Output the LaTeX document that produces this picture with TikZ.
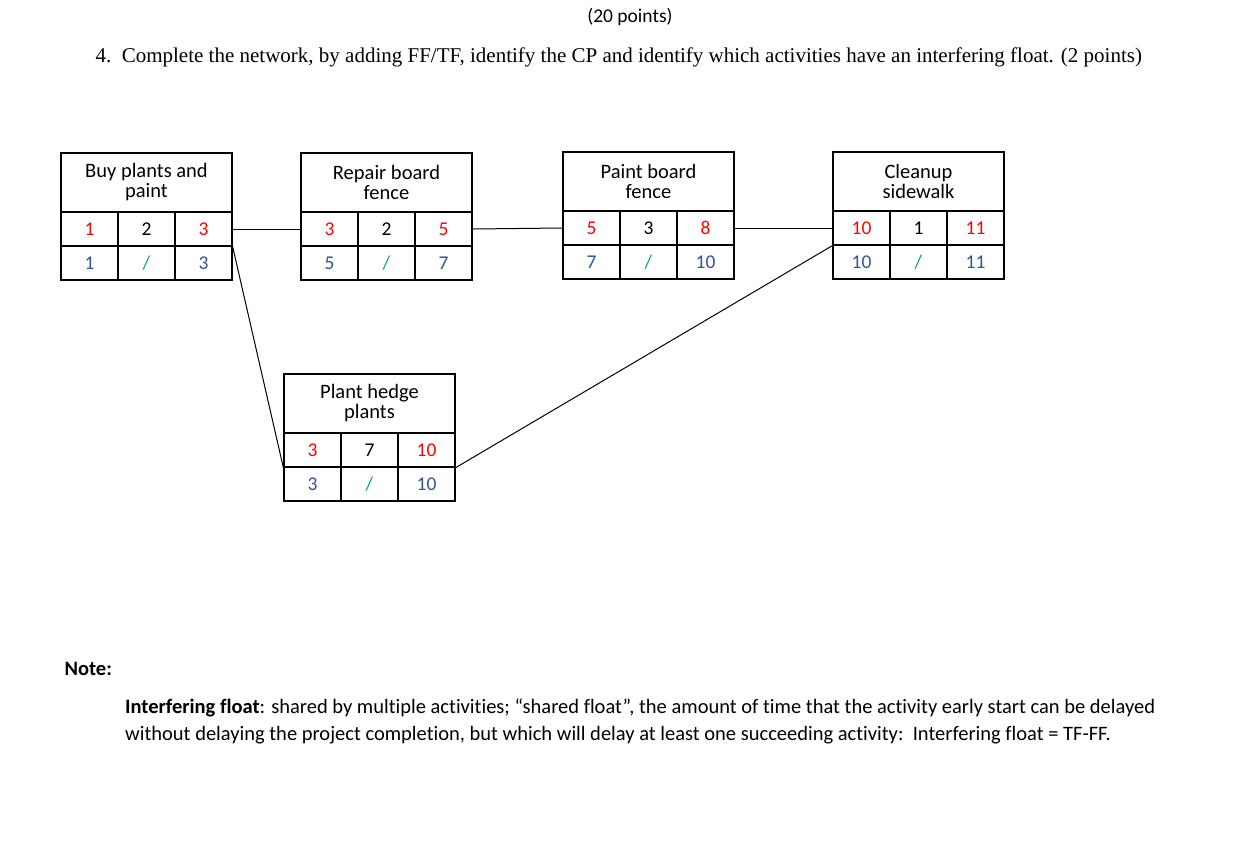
\documentclass[tikz,border=0pt]{standalone}
\usepackage{fontspec}
\setmainfont[Ligatures={NoCommon}]{Carlito}
\newfontfamily\timesf{Liberation Serif}
\definecolor{rd}{HTML}{FF0000}
\definecolor{bl}{HTML}{2F5597}
\definecolor{gr}{HTML}{00B050}
\begin{document}
\begin{tikzpicture}[x=1pt,y=-1pt,
  cell/.style={draw,line width=1.3pt,minimum width=57pt,minimum height=34pt,inner sep=0pt,font=\fontsize{19.5}{19.5}\selectfont},
  ttl/.style={draw,line width=1.3pt,minimum width=171pt,minimum height=59pt,inner sep=0pt,align=center,font=\fontsize{20.5}{20}\selectfont},
  link/.style={line width=1pt}]
\useasboundingbox (0,0) rectangle (1255,852);
\newcommand\actbox[9]{%
  \node[ttl] (#1t) at (#2+85.5,#3+29.5) {#4};
  \node[cell,text=rd] (#1a) at (#2+28.5,#3+76) {#5};
  \node[cell] (#1b) at (#2+85.5,#3+76) {#6};
  \node[cell,text=rd] (#1c) at (#2+142.5,#3+76) {#7};
  \node[cell,text=bl] (#1d) at (#2+28.5,#3+110) {#8};
  \node[cell,text=gr] (#1e) at (#2+85.5,#3+110) {/};
  \node[cell,text=bl] (#1f) at (#2+142.5,#3+110) {#9};}
\node[font=\fontsize{19.5}{19.5}\selectfont] (hdr) at (630,17) {(20 points)};
\node[font=\timesf\fontsize{21}{21}\selectfont,anchor=west] (q) at (92,57) {4.\ \ Complete the network, by adding FF/TF, identify the CP and identify which activities have an interfering float. (2 points)};
\actbox{A}{61}{153}{Buy plants and\\paint}{1}{2}{3}{1}{3}
\actbox{B}{301}{153}{Repair board\\fence}{3}{2}{5}{5}{7}
\actbox{C}{563}{152}{Paint board\\fence}{5}{3}{8}{7}{10}
\actbox{D}{833}{152}{Cleanup\\sidewalk}{10}{1}{11}{10}{11}
\actbox{E}{284}{374}{Plant hedge\\plants}{3}{7}{10}{3}{10}
\draw[link] (Ac.east) -- (Ba.west);
\draw[link] (Bc.east) -- (Ca.west);
\draw[link] (Cc.east) -- (Da.west);
\draw[link] (Ac.south east) -- (Ea.south west);
\draw[link] (Ec.south east) -- (Da.south west);
\node[font=\bfseries\fontsize{20.5}{20.5}\selectfont,anchor=west] (note) at (61,669) {Note:};
\node[font=\fontsize{20.5}{27}\selectfont,anchor=north west,align=left,inner sep=0pt] (txt) at (125,699) {\textbf{Interfering float}: shared by multiple activities; “shared float”, the amount of time that the activity early start can be delayed\\without delaying the project completion, but which will delay at least one succeeding activity:\ \ Interfering float = TF-FF.};
\end{tikzpicture}
\end{document}
